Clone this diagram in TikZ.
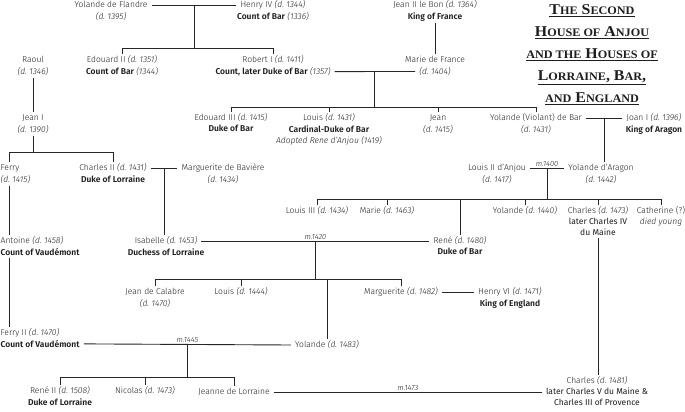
\documentclass[tikz,border=0pt]{standalone}
\usepackage{fontspec}
\setmainfont{Fira Sans Light}[BoldFont={Fira Sans SemiBold},ItalicFont={Fira Sans Light Italic},BoldItalicFont={Fira Sans SemiBold Italic}]
\newfontfamily\medfont{Fira Sans}
\newfontfamily\titlefont{Liberation Serif}[FakeStretch=1.06]
\usetikzlibrary{calc}
\definecolor{ink}{HTML}{1E1E1E}
\definecolor{lnk}{HTML}{262626}
\newcommand\dd[1]{\textit{(d.~#1)}}
\newcommand\Bg[1]{{\fontsize{15}{22}\selectfont #1}}
\newcommand\Sm[1]{{\fontsize{11.5}{22}\selectfont #1}}
\newcommand\person[5]{%
  \node[per] (#1) at (#2,#3) {#4};
  \node[sub] (#1s) at ([yshift=1.2pt]#1.south) {\rule{0pt}{6.2pt}#5};}
\newcommand\personl[5]{%
  \node[per,anchor=west] (#1) at (#2,#3) {#4};
  \node[sub,align=left,anchor=north west] (#1s) at ([yshift=1.2pt]#1.south west) {\rule{0pt}{6.2pt}#5};}
\begin{document}
\begin{tikzpicture}[x=1pt,y=-1pt,
  per/.style={inner xsep=4pt,inner ysep=2pt,text height=6.2pt,text depth=2pt,font=\fontsize{8.5}{11}\selectfont,text=ink},
  sub/.style={inner xsep=4pt,inner ysep=2pt,align=center,anchor=north,font=\fontsize{8.5}{11}\selectfont,text=ink},
  mlab/.style={font=\fontsize{7.5}{8}\selectfont\itshape,inner sep=1.5pt,anchor=south,text=ink},
  ln/.style={draw=lnk,line width=0.9pt},
  title/.style={align=center,font=\titlefont\bfseries\fontsize{15}{22}\selectfont,text=ink,inner sep=0pt}]
\fill[white] (0,0) rectangle (685,412);
\useasboundingbox (0,0) rectangle (685,412);
% title
\node[title] (ti) at (592,55) {%
\underline{\Bg{T}\Sm{HE} \Bg{S}\Sm{ECOND}}\\
\underline{\Bg{H}\Sm{OUSE OF} \Bg{A}\Sm{NJOU}}\\
\underline{\Sm{AND THE} \Bg{H}\Sm{OUSES OF}}\\
\underline{\Bg{L}\Sm{ORRAINE}, \Bg{B}\Sm{AR},}\\
\underline{\Sm{AND} \Bg{E}\Sm{NGLAND}}};
% persons
\person{yf}{111}{5}{Yolande de Flandre}{\dd{1395}}
\person{h4}{273}{5}{Henry IV \dd{1344}}{\textbf{Count of Bar} \textit{(1336)}}
\person{j2}{435}{5}{Jean II le Bon \dd{1364}}{\textbf{King of France}}
\person{ra}{33}{60}{Raoul}{\dd{1346}}
\person{e2}{122}{60}{Edouard II \dd{1351}}{\textbf{Count of Bar} \textit{(1344)}}
\person{r1}{273}{60}{Robert I \dd{1411}}{\textbf{Count, later Duke of Bar} \textit{(1357)}}
\person{mf}{435}{60}{Marie de France}{\dd{1404}}
\person{j1}{33}{118}{Jean I}{\dd{1390}}
\person{e3}{231}{118}{Edouard III \dd{1415}}{\textbf{Duke of Bar}}
\person{lc}{329}{118}{Louis \dd{1431}}{\textbf{Cardinal-Duke of Bar}\\\textit{Adopted Rene d'Anjou (1419)}}
\person{jn}{438}{118}{Jean}{\dd{1415}}
\person{yv}{536}{118}{Yolande (Violant) de Bar}{\dd{1431}}
\person{jo}{654}{118}{Joan I \dd{1396}}{\textbf{King of Aragon}}
\personl{fe}{-3.5}{168}{Ferry}{\dd{1415}}
\person{c2}{113}{168}{Charles II \dd{1431}}{\textbf{Duke of Lorraine}}
\person{mb}{223}{168}{Marguerite de Bavière}{\dd{1434}}
\person{l2}{497}{168}{Louis II d'Anjou}{\dd{1417}}
\person{ya}{601}{168}{Yolande d'Aragon}{\dd{1442}}
\node[per] (l3) at (317,211) {Louis III \dd{1434}};
\node[per] (ma) at (387,211) {Marie \dd{1463}};
\node[per] (yo) at (525,211) {Yolande \dd{1440}};
\person{ch}{598}{211}{Charles \dd{1473}}{{\medfont later Charles IV}\\{\medfont du Maine}}
\person{ca}{661}{211}{Catherine (?)}{\textit{died young}}
\personl{an}{-3.5}{241}{Antoine \dd{1458}}{\textbf{Count of Vaudémont}}
\person{is}{166}{241}{Isabelle \dd{1453}}{\textbf{Duchess of Lorraine}}
\person{re}{460}{241}{René \dd{1480}}{\textbf{Duke of Bar}}
\person{jc}{155}{292}{Jean de Calabre}{\dd{1470}}
\node[per] (lo) at (241,292) {Louis \dd{1444}};
\node[per] (mg) at (401,292) {Marguerite \dd{1482}};
\person{h6}{510}{292}{Henry VI \dd{1471}}{\textbf{King of England}}
\personl{f2}{-3.5}{333}{Ferry II \dd{1470}}{\textbf{Count of Vaudémont}}
\node[per] (yo2) at (327,345) {Yolande \dd{1483}};
\person{r2}{60}{391}{René II \dd{1508}}{\textbf{Duke of Lorraine}}
\node[per] (ni) at (145,391) {Nicolas \dd{1473}};
\node[per] (jl) at (234,392) {Jeanne de Lorraine};
\person{c5}{597}{381}{Charles \dd{1481}}{{\medfont later Charles V du Maine \&}\\{\medfont Charles III of Provence}}
% columns and bars
\coordinate (vc) at (9,0);
\coordinate (b1) at (0,48);
\coordinate (b2) at (0,107);
\coordinate (b3) at (0,152);
\coordinate (b5) at (0,199);
\coordinate (b6) at (0,279);
\coordinate (b7) at (0,377);
% Yolande de Flandre + Henry IV
\draw[ln] (yf.east) -- (h4.west);
\coordinate (m1) at ($(yf.east)!0.5!(h4.west)$);
\draw[ln] (m1) -- (m1 |- b1);
\draw[ln] (e2.north) -- (e2.north |- b1) -- (r1.north |- b1) -- (r1.north);
% Jean II -> Marie
\draw[ln] (j2s.south) -- (j2s.south |- mf.north);
% Robert I + Marie
\draw[ln] (r1s.east) -- (mfs.west);
\coordinate (m2) at ($(r1s.east)!0.5!(mfs.west)$);
\draw[ln] (m2) -- (m2 |- b2);
\draw[ln] (e3.north) -- (e3.north |- b2) -- (yv.north |- b2) -- (yv.north);
\draw[ln] (lc.north |- b2) -- (lc.north);
\draw[ln] (jn.north |- b2) -- (jn.north);
% Yolande (Violant) + Joan I
\draw[ln] (yv.east) -- (jo.west);
\coordinate (m3) at ($(yv.east)!0.5!(jo.west)$);
\draw[ln] (m3) -- (m3 |- ya.north);
% Raoul -> Jean I -> children
\draw[ln] (ras.south) -- (ras.south |- j1.north);
\draw[ln] (j1s.south) -- (j1s.south |- b3);
\draw[ln] (fe.north -| vc) -- (vc |- b3) -- (c2.north |- b3) -- (c2.north);
% Ferry -> Antoine -> Ferry II
\draw[ln] (fes.south -| vc) -- (an.north -| vc);
\draw[ln] (ans.south -| vc) -- (f2.north -| vc);
% Charles II + Marguerite de Baviere
\draw[ln] (c2.east) -- (mb.west);
\coordinate (m4) at ($(c2.east)!0.5!(mb.west)$);
\draw[ln] (m4) -- (m4 |- is.north);
% Louis II + Yolande d'Aragon
\draw[ln] (l2.east) -- (ya.west);
\coordinate (m5) at ($(l2.east)!0.5!(ya.west)$);
\node[mlab] (lab1) at (m5) {m.1400};
\draw[ln] (m5) -- (m5 |- b5);
\draw[ln] (l3.north) -- (l3.north |- b5) -- (ca.north |- b5) -- (ca.north);
\draw[ln] (ma.north |- b5) -- (ma.north);
\draw[ln] (yo.north |- b5) -- (yo.north);
\draw[ln] (ch.north |- b5) -- (ch.north);
\draw[ln] (re.north |- b5) -- (re.north);
% Isabelle + Rene
\draw[ln] (is.east) -- (re.west);
\coordinate (m6) at ($(is.east)!0.5!(re.west)$);
\node[mlab] (lab2) at (m6) {m.1420};
\draw[ln] (m6) -- (m6 |- b6);
\draw[ln] (jc.north) -- (jc.north |- b6) -- (mg.north |- b6) -- (mg.north);
\draw[ln] (lo.north |- b6) -- (lo.north);
\draw[ln] (yo2.north |- b6) -- (yo2.north);
% Marguerite + Henry VI
\draw[ln] (mg.east) -- (h6.west);
% Ferry II + Yolande
\draw[ln] (f2s.east) -- (yo2.west);
\coordinate (m7) at ($(f2s.east)!0.5!(yo2.west)$);
\node[mlab] (lab3) at (m7) {m.1445};
\draw[ln] (m7) -- (m7 |- b7);
\draw[ln] (r2.north) -- (r2.north |- b7) -- (jl.north |- b7) -- (jl.north);
\draw[ln] (ni.north |- b7) -- (ni.north);
% Jeanne + Charles
\coordinate (c5l) at ($(c5s.north west)+(0,6.2)$);
\draw[ln] (jl.east) -- (jl.east -| c5l);
\coordinate (m8) at ($(jl.east)!0.5!(jl.east -| c5l)$);
\node[mlab] (lab4) at (m8) {m.1473};
% Charles IV -> Charles V
\draw[ln] (chs.south) -- (chs.south |- c5.north);
\end{tikzpicture}
\end{document}
